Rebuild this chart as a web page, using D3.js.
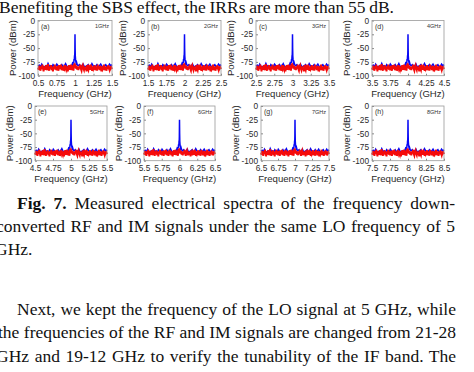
<!DOCTYPE html>
<html>
<head>
<meta charset="utf-8">
<script src="https://cdn.jsdelivr.net/npm/d3@7"></script>
<style>
  body { margin: 0; background: #fff; }
  svg { display: block; }
</style>
</head>
<body>
<div id="fig"></div>
<script>
// ---- data ----
var panelNames = ["(a)", "(b)", "(c)", "(d)", "(e)", "(f)", "(g)", "(h)"];
var centerFreqs = [1, 2, 3, 4, 5, 6, 7, 8];
var centerLabels = ["1GHz", "2GHz", "3GHz", "4GHz", "5GHz", "6GHz", "7GHz", "8GHz"];
var yTicks = [0, -25, -50, -75, -100];
var xTickOffsets = [-0.5, -0.25, 0, 0.25, 0.5];

// red trace (image signal)
var redNoise = [
  -85,-89,-82,-87,-91,-83,-88,-80,-86,-92,
  -83,-89,-85,-81,-90,-86,-79,-88,-91,-83,
  -87,-81,-90,-84,-92,-83,-87,-80,-89,-85,
  -90,-82,-87,-91,-81,-88,-84,-80,-90,-86,
  -83,-91,-85,-88,-81,-87,-90,-83,-92,-84,
  -81,-89,-86,-80,-90,-84,-83,-91,-80,-79,
  -81,-87,-82,-89,-84,-90,-83,-87,-80,-88,
  -91,-84,-81,-87,-90,-83,-89,-85,-92,-81,
  -87,-90,-83,-85,-89,-80,-87,-91,-83,-88,
  -85,-81,-90,-86,-83,-91,-80,-88,-84,-90,
  -82,-87,-92,-83,-88,-85,-80,-90,-86,-83,
  -91,-84,-88,-81,-87,-90,-83,-87,-85,-88
];
// blue trace (RF signal) floor
var blueFloor = [
  -83,-81,-84,-79,-83,-85,-82,-84,-78,-83,
  -82,-85,-80,-83,-84,-79,-82,-85,-83,-80,
  -84,-82,-78,-83,-85,-82,-84,-80,-83,-79,
  -82,-84,-83,-80,-85,-82,-79,-84,-83,-82,
  -80,-84,-83,-78,-82,-85,-83,-80,-84,-82,
  -79,-83,-85,-82,-80,-84,-83,-79,-82,-80
];
// blue peak around the center frequency (offset in GHz, level in dBm)
var peakOffsets = [-0.045, -0.035, -0.028, -0.022, -0.017, -0.013, -0.009, -0.006, -0.004, -0.002, 0,
                   0.002, 0.004, 0.007, 0.011, 0.016, 0.022, 0.03, 0.04];
var peakLevels  = [-82, -78, -80, -75, -77, -70, -72, -63, -66, -55, -25,
                   -50, -64, -70, -74, -78, -76, -80, -82];

var topLine = "Benefiting the SBS effect, the IRRs are more than 55 dB.";
var captionLines = [
  "Measured electrical spectra of the frequency down-",
  "converted RF and IM signals under the same LO frequency of 5",
  "GHz."
];
var bodyLines = [
  "Next, we kept the frequency of the LO signal at 5 GHz, while",
  "the frequencies of the RF and IM signals are changed from 21-28",
  "GHz and 19-12 GHz to verify the tunability of the IF band. The"
];

// ---- layout ----
var W = 474, H = 372;
var boxes = [
  [38, 112, 20.5, 75.7], [148, 221, 20.5, 75.7], [256, 329, 20.5, 75.7], [372, 444, 20.5, 75.7],
  [35, 107, 106, 160.7], [144, 215, 106, 160.7], [261, 329, 106, 160.7], [372, 444, 106, 160.7]
];
var sans = "'Liberation Sans', Arial, Helvetica, sans-serif";
var serif = "'Liberation Serif', 'Times New Roman', serif";

var svg = d3.select("#fig").append("svg")
  .attr("width", W).attr("height", H);
svg.append("rect").attr("width", W).attr("height", H).attr("fill", "#fff");

boxes.forEach(function(b, i) {
  var c = centerFreqs[i];
  var x = d3.scaleLinear().domain([c - 0.5, c + 0.5]).range([b[0], b[1]]);
  var y = d3.scaleLinear().domain([-100, 0]).range([b[3], b[2]]);
  var g = svg.append("g");

  // traces
  var red = redNoise.map(function(v, k) {
    return [c - 0.5 + k / (redNoise.length - 1), v];
  });
  var blue = blueFloor.map(function(v, k) {
    return [c - 0.5 + k / (blueFloor.length - 1), v];
  }).filter(function(d) { return Math.abs(d[0] - c) > 0.05; });
  peakOffsets.forEach(function(o, k) { blue.push([c + o, peakLevels[k]]); });
  blue.sort(function(a, b2) { return a[0] - b2[0]; });

  var line = d3.line().x(function(d) { return x(d[0]); }).y(function(d) { return y(d[1]); });
  g.append("path").datum(blue).attr("d", line)
    .attr("fill", "none").attr("stroke", "#0808f5").attr("stroke-width", 1.5);
  g.append("path").datum(red).attr("d", line)
    .attr("fill", "none").attr("stroke", "#f50a0a").attr("stroke-width", 1.9);

  // axes
  var fmt = function(d) { return String(d); };
  var xa = g.append("g").attr("transform", "translate(0," + b[3] + ")")
    .call(d3.axisBottom(x).tickValues(xTickOffsets.map(function(o) { return c + o; }))
      .tickSizeInner(-2).tickSizeOuter(0).tickPadding(4.5).tickFormat(fmt));
  var ya = g.append("g").attr("transform", "translate(" + b[0] + ",0)")
    .call(d3.axisLeft(y).tickValues(yTicks).tickSizeInner(-2).tickSizeOuter(0).tickPadding(3).tickFormat(fmt));
  [xa, ya].forEach(function(a) {
    a.select(".domain").remove();
    a.selectAll(".tick line").attr("stroke", "#888");
    a.selectAll(".tick text").attr("fill", "#2a2a2a")
      .style("font-family", sans).style("font-size", "8.3px");
  });

  g.append("rect").attr("x", b[0]).attr("y", b[2])
    .attr("width", b[1] - b[0]).attr("height", b[3] - b[2])
    .attr("fill", "none").attr("stroke", "#999").attr("stroke-width", 0.8);

  g.append("text").attr("x", b[0] + 3).attr("y", b[2] + 8)
    .style("font-family", sans).style("font-size", "7px").attr("fill", "#333")
    .text(panelNames[i]);
  g.append("text").attr("x", b[1] - 3).attr("y", b[2] + 7.5).attr("text-anchor", "end")
    .style("font-family", sans).style("font-size", "5.5px").attr("fill", "#333")
    .text(centerLabels[i]);

  g.append("text").attr("x", (b[0] + b[1]) / 2).attr("y", b[3] + 21)
    .attr("text-anchor", "middle")
    .style("font-family", sans).style("font-size", "9.6px").attr("fill", "#2a2a2a")
    .text("Frequency (GHz)");
  g.append("text")
    .attr("transform", "translate(" + (b[0] - 22) + "," + ((b[2] + b[3]) / 2) + ") rotate(-90)")
    .attr("text-anchor", "middle")
    .style("font-family", sans).style("font-size", "9.6px").attr("fill", "#2a2a2a")
    .text("Power (dBm)");
});

// ---- surrounding text ----
function addLine(str, x0, x1, yb, justify, boldPrefix) {
  var t = svg.append("text").attr("x", x0).attr("y", yb)
    .style("font-family", serif).style("font-size", "17.5px").attr("fill", "#111");
  if (boldPrefix) {
    t.append("tspan").style("font-weight", "bold").text(boldPrefix);
  }
  t.append("tspan").text(str);
  if (justify) {
    var n = ((boldPrefix || "") + str).split(" ").length - 1;
    var len = t.node().getComputedTextLength();
    t.style("word-spacing", ((x1 - x0 - len) / n) + "px");
  }
  return t;
}

addLine(topLine, -1, 394, 12.5, true);
addLine(captionLines[0], 17, 455, 209, true, "Fig. 7. ");
addLine(captionLines[1], -4, 455, 232, true);
addLine(captionLines[2], -5, 455, 254.5, false);
addLine(bodyLines[0], 17, 456, 315, true);
addLine(bodyLines[1], -2, 456, 338, true);
addLine(bodyLines[2], -4, 456, 361.5, true);
</script>
</body>
</html>
